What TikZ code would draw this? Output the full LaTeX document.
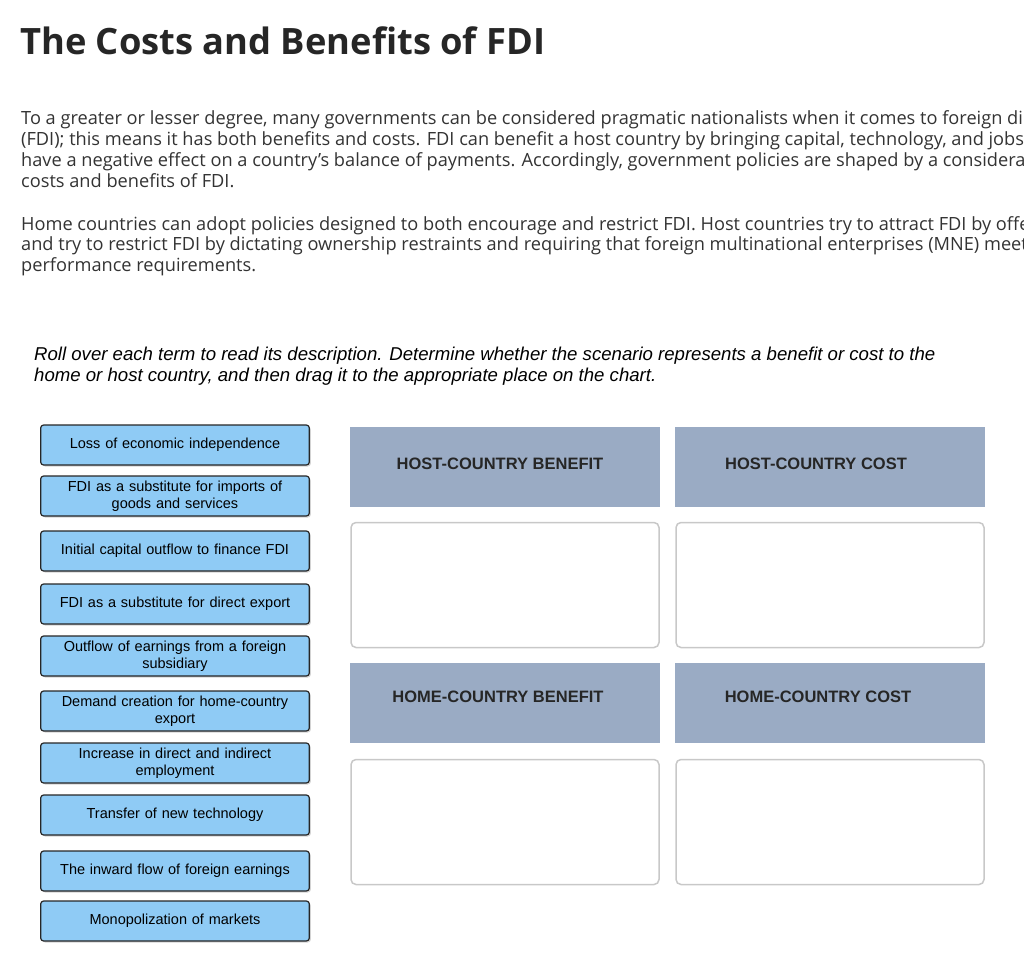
\documentclass[tikz,border=0pt]{standalone}
\usepackage{fontspec}
\setmainfont{Open Sans}
\newfontfamily\arial{Liberation Sans}
\usetikzlibrary{shadows}
\definecolor{termblue}{HTML}{8FCBF5}
\definecolor{headblue}{HTML}{9AABC4}
\definecolor{dropgray}{HTML}{C8C8C8}
\tikzset{
 body/.style={anchor=base west,inner sep=0,font=\fontsize{18.2}{20}\selectfont,text=black!80},
 instr/.style={anchor=base west,inner sep=0,font=\arial\itshape\fontsize{18.6}{21}\selectfont},
 term/.style={draw=black!85,line width=1.2pt,rounded corners=3pt,fill=termblue,minimum width=267pt,minimum height=40pt,text width=262pt,align=center,font=\arial\fontsize{14.5}{16.5}\selectfont,drop shadow={opacity=0.35,shadow xshift=1.5pt,shadow yshift=-1.5pt}},
 head/.style={fill=headblue,minimum width=310pt,minimum height=80pt},
 headtext/.style={font=\arial\bfseries\fontsize{16.5}{18}\selectfont,text=black!85},
 drop/.style={draw=dropgray,line width=1.5pt,rounded corners=5pt,fill=white,minimum width=308pt,minimum height=125pt},
}
\begin{document}
\begin{tikzpicture}[x=1pt,y=-1pt]
\useasboundingbox (0,0) rectangle (1024,967);
\clip (0,0) rectangle (1024,967);
\node[anchor=base west,inner sep=0,font=\bfseries\fontsize{36.3}{40}\selectfont,text=black!85] (title) at (20,54) {The Costs and Benefits of FDI};
\node[body] (p1) at (21,124) {To a greater or lesser degree, many governments can be considered pragmatic nationalists when it comes to foreign direct investment};
\node[body] (p2) at (21,145) {(FDI); this means it has both benefits and costs. FDI can benefit a host country by bringing capital, technology, and jobs, but it may};
\node[body] (p3) at (21,166) {have a negative effect on a country's balance of payments. Accordingly, government policies are shaped by a consideration of the};
\node[body] (p4) at (21,187) {costs and benefits of FDI.};
\node[body] (p5) at (21,230) {Home countries can adopt policies designed to both encourage and restrict FDI. Host countries try to attract FDI by offering incentives};
\node[body] (p6) at (21,250) {and try to restrict FDI by dictating ownership restraints and requiring that foreign multinational enterprises (MNE) meet specific};
\node[body] (p7) at (21,271) {performance requirements.};
\node[instr] (i1) at (34,360) {Roll over each term to read its description. Determine whether the scenario represents a benefit or cost to the};
\node[instr] (i2) at (34,381) {home or host country, and then drag it to the appropriate place on the chart.};
\node[term] (t1) at (175,445) {Loss of economic independence};
\node[term] (t2) at (175,496) {FDI as a substitute for imports of\\goods and services};
\node[term] (t3) at (175,551) {Initial capital outflow to finance FDI};
\node[term] (t4) at (175,604) {FDI as a substitute for direct export};
\node[term] (t5) at (175,656) {Outflow of earnings from a foreign\\subsidiary};
\node[term] (t6) at (175,711) {Demand creation for home-country\\export};
\node[term] (t7) at (175,763) {Increase in direct and indirect\\employment};
\node[term] (t8) at (175,815) {Transfer of new technology};
\node[term] (t9) at (175,871) {The inward flow of foreign earnings};
\node[term] (t10) at (175,921) {Monopolization of markets};
\node[head] (h1) at (505,467) {};
\node[headtext] (h1t) at (500,464) {HOST-COUNTRY BENEFIT};
\node[head] (h2) at (830,467) {};
\node[headtext] (h2t) at (816,464) {HOST-COUNTRY COST};
\node[head] (h3) at (505,703) {};
\node[headtext] (h3t) at (498,697) {HOME-COUNTRY BENEFIT};
\node[head] (h4) at (830,703) {};
\node[headtext] (h4t) at (818,697) {HOME-COUNTRY COST};
\node[drop] (d1) at (505,585) {};
\node[drop] (d2) at (830,585) {};
\node[drop] (d3) at (505,822) {};
\node[drop] (d4) at (830,822) {};
\end{tikzpicture}
\end{document}
